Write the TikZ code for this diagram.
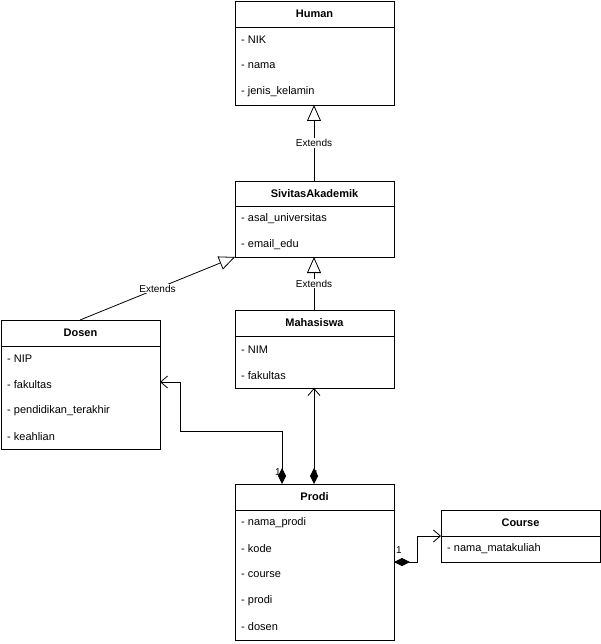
\documentclass[tikz,border=0pt]{standalone}
\usepackage{fontspec}
\setmainfont{Liberation Sans}
\usetikzlibrary{arrows.meta}
\begin{document}
\begin{tikzpicture}[x=1pt,y=-1pt,
  box/.style={draw,line width=0.8pt},
  attr/.style={anchor=west,font=\fontsize{11}{13}\selectfont,inner sep=0pt},
  ttl/.style={font=\bfseries\fontsize{11}{13}\selectfont,inner sep=0pt},
  lbl/.style={font=\fontsize{10}{12}\selectfont,fill=white,inner sep=1pt},
  ext/.style={draw,line width=0.8pt,-{Triangle[open,width=14pt,length=16pt]}},
  agg/.style={draw,line width=0.8pt,{Diamond[width=8pt,length=16pt]}-{Straight Barb[width=12pt,length=7pt]}}]
\useasboundingbox (0,0) rectangle (601,644);
\newcommand{\umlclass}[6]{% name, x1,y1,x2,y2,header y
  \draw[box] (#2,#3) rectangle (#4,#5);
  \draw[box] (#2,#6) -- (#4,#6);
  \node[ttl] at ({(#2+#4)/2},{(#3+#6)/2}) {#1};
  \coordinate (#1-n) at ({(#2+#4)/2},#3);
}
\umlclass{Human}{235}{1}{394}{105}{27}
\node[attr] at (241,40) {- NIK};
\node[attr] at (241,66) {- nama};
\node[attr] at (241,92) {- jenis\_kelamin};
\umlclass{SivitasAkademik}{235}{181}{394}{257}{206}
\node[attr] at (241,219) {- asal\_universitas};
\node[attr] at (241,245) {- email\_edu};
\umlclass{Dosen}{1}{320}{160}{449}{346}
\node[attr] at (7,359) {- NIP};
\node[attr] at (7,385) {- fakultas};
\node[attr] at (7,411) {- pendidikan\_terakhir};
\node[attr] at (7,437) {- keahlian};
\umlclass{Mahasiswa}{235}{310}{394}{388}{336}
\node[attr] at (241,350) {- NIM};
\node[attr] at (241,376) {- fakultas};
\umlclass{Prodi}{235}{484}{394}{640}{510}
\node[attr] at (241,523) {- nama\_prodi};
\node[attr] at (241,549) {- kode};
\node[attr] at (241,575) {- course};
\node[attr] at (241,601) {- prodi};
\node[attr] at (241,627) {- dosen};
\umlclass{Course}{441}{510}{600}{562}{536}
\node[attr] at (447,549) {- nama\_matakuliah};
\coordinate (hb) at (314,105);
\coordinate (st) at (314,181);
\coordinate (sb) at (314,257);
\coordinate (sl) at (235,257);
\coordinate (mt) at (314,310);
\coordinate (mb) at (314,388);
\coordinate (dt) at (80,320);
\coordinate (dr) at (160,382);
\coordinate (p1) at (282,484);
\coordinate (p2) at (314,484);
\coordinate (pr) at (394,562);
\coordinate (cl) at (441,536);
\path[ext] (st) -- node[lbl]{Extends} (hb);
\path[ext] (mt) -- node[lbl,pos=0.5]{Extends} (sb);
\path[ext] (dt) -- node[lbl]{Extends} (sl);
\path[agg] (p1) -- (282,431) -- (180,431) -- (180,382) -- (dr);
\path[agg] (p2) -- (mb);
\path[agg] (pr) -- (417,562) -- (417,536) -- (cl);
\node[lbl,fill=none] at (278,472) {1};
\node[lbl,fill=none] at (316,474) {1};
\node[lbl,fill=none] at (399,550) {1};
\end{tikzpicture}
\end{document}
